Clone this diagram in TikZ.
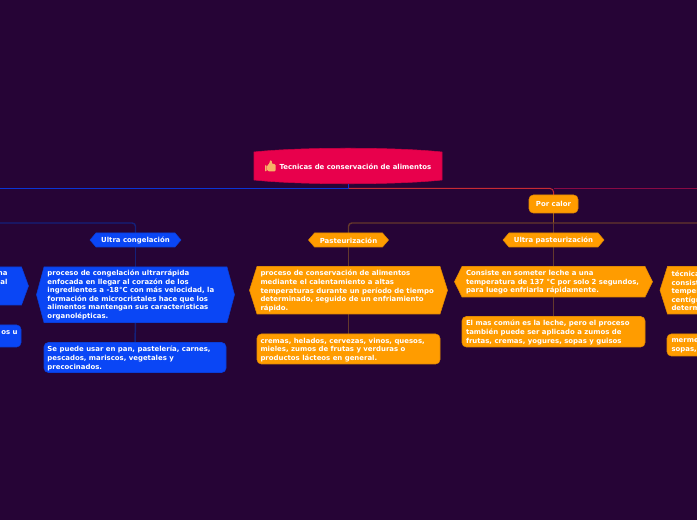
\documentclass[tikz,border=0pt]{standalone}
\usepackage{fontspec}
\setmainfont{DejaVu Sans}[BoldFont={DejaVu Sans Bold}]
\usetikzlibrary{backgrounds}
\definecolor{bgc}{HTML}{260436}
\definecolor{bluec}{HTML}{0A46F5}
\definecolor{orangec}{HTML}{FF9C00}
\definecolor{rootc}{HTML}{E8004C}
\definecolor{blueline}{HTML}{0A35D8}
\definecolor{bluedark}{HTML}{14207A}
\definecolor{redline}{HTML}{C82A34}
\definecolor{magline}{HTML}{8A0A44}
\definecolor{brownline}{HTML}{64382C}
\definecolor{thumbc}{HTML}{F7B267}
\tikzset{
  x=0.75pt,y=-0.75pt,
  lbl/.style={inner sep=0pt,outer sep=0pt,anchor=west,align=left,text=white,
    font=\fontsize{5.2pt}{6.45pt}\selectfont\bfseries},
  midlbl/.style={lbl,anchor=center,align=center},
  wire/.style={line width=0.75pt},
  softwire/.style={line width=1.1pt},
  corner/.style={rounded corners=2.5pt}
}
% name, x1, y1, x2, y2, inset, colour
\newcommand\hexshape[7]{%
  \node[inner sep=0pt,outer sep=0pt,minimum width={(#4-#2)*0.75pt},minimum height={(#5-#3)*0.75pt}]
    (#1) at ({(#2+#4)/2},{(#3+#5)/2}) {};
  \filldraw[fill=#7,draw=#7!88!black,line width=0.4pt]
    (#2,{(#3+#5)/2}) -- ({#2+#6},#3) -- ({#4-#6},#3) -- (#4,{(#3+#5)/2}) -- ({#4-#6},#5) -- ({#2+#6},#5) -- cycle;}
% name, x1, y1, x2, y2, colour
\newcommand\boxshape[6]{%
  \node[inner sep=0pt,outer sep=0pt,minimum width={(#4-#2)*0.75pt},minimum height={(#5-#3)*0.75pt}]
    (#1) at ({(#2+#4)/2},{(#3+#5)/2}) {};
  \filldraw[fill=#6,draw=#6!88!black,line width=0.4pt,rounded corners=3.2pt]
    (#2,#3) rectangle (#4,#5);}
\begin{document}
\begin{tikzpicture}
\useasboundingbox (0,0) rectangle (697,520);
\clip (0,0) rectangle (697,520);
\coordinate (jroot) at (348.5,188.5);
\coordinate (offleft) at (0,188.5);
\coordinate (offright) at (697,188.5);
\coordinate (jcalor) at (553.5,188.5);
\coordinate (jbrown) at (553.5,223);
\coordinate (offright2) at (697,223);
\coordinate (offleft2) at (0,223);

% root
\node[inner sep=0pt,outer sep=0pt,minimum width=141pt,minimum height=27pt] (root) at (348.5,166) {};
\filldraw[fill=rootc,draw=rootc!88!black,line width=0.4pt]
  (254,152) .. controls (300,147) and (396,147) .. (442,152) -- (442,180)
  .. controls (396,185) and (300,185) .. (254,180) -- cycle;
% thumb icon
\fill[thumbc,rounded corners=0.6pt] (265,165) -- (266.5,165) -- (266.5,171.5) -- (265,171.5) -- cycle;
\fill[thumbc,rounded corners=0.8pt] (267,165.5) -- (269.5,163.5) -- (270,160) -- (271.8,160.5) -- (271.8,164) -- (275.5,164) -- (275.5,171.5) -- (269,171.5) -- (267,170.5) -- cycle;
\node[lbl] (roottext) at (279.5,166.6) {Tecnicas de conservación de alimentos};

% por calor
\boxshape{calor}{529}{195}{578}{213}{orangec}
\node[midlbl] (calortext) at (553.5,204) {Por calor};

% second level
\hexshape{cong}{90}{233}{181}{247}{6}{bluec}
\node[midlbl] (congtext) at (135.5,240.5) {Ultra congelación};
\hexshape{past}{308.5}{233}{388.5}{247}{6}{orangec}
\node[midlbl] (pasttext) at (348.5,240.5) {Pasteurización};
\hexshape{upast}{503}{233}{604}{247}{6}{orangec}
\node[midlbl] (upasttext) at (553.5,240.5) {Ultra pasteurización};

% blue column
\hexshape{conghex}{36.5}{267}{234.5}{322.5}{7.5}{bluec}
\node[lbl] (conghext) at (47.5,295) {proceso de congelación ultrarrápida\\enfocada en llegar al corazón de los\\ingredientes a -18°C con más velocidad, la\\formación de microcristales hace que los\\alimentos mantengan sus características\\organolépticas.};
\boxshape{congbox}{44}{342.5}{226}{372.5}{bluec}
\node[lbl] (congboxt) at (47.5,358.5) {Se puede usar en pan, pastelería, carnes,\\pescados, mariscos, vegetales y\\precocinados.};

% clipped left
\hexshape{lefthex}{-169.5}{267}{28.5}{305}{7}{bluec}
\node[lbl,anchor=east,align=right] (lefthext) at (7.5,278) {na\\al};
\boxshape{leftbox}{-161}{325}{21}{347}{bluec}
\node[lbl,anchor=east] (leftboxt) at (17.5,333) {os u};

% orange column 1
\hexshape{pasthex}{249.5}{266.5}{447.5}{314}{7.5}{orangec}
\node[lbl] (pasthext) at (260.5,291) {proceso de conservación de alimentos\\mediante el calentamiento a altas\\temperaturas durante un período de tiempo\\determinado, seguido de un enfriamiento\\rápido.};
\boxshape{pastbox}{257}{334}{440}{364}{orangec}
\node[lbl] (pastboxt) at (260.5,349.8) {cremas, helados, cervezas, vinos, quesos,\\mieles, zumos de frutas y verduras o\\productos lácteos en general.};

% orange column 2
\hexshape{upasthex}{454.5}{266.5}{652.5}{297}{7.5}{orangec}
\node[lbl] (upasthext) at (466,282.3) {Consiste en someter leche a una\\temperatura de 137 °C por solo 2 segundos,\\para luego enfriarla rápidamente.};
\boxshape{upastbox}{462}{316.5}{645}{347}{orangec}
\node[lbl] (upastboxt) at (466,332.5) {El mas común es la leche, pero el proceso\\también puede ser aplicado a zumos de\\frutas, cremas, yogures, sopas y guisos};

% clipped right
\hexshape{righthex}{660}{266.5}{858}{314}{7.5}{orangec}
\node[lbl] (righthext) at (671.5,291) {técnica\\consiste\\temperat\\centígra\\determin};
\boxshape{rightbox}{667}{334}{850}{356}{orangec}
\node[lbl] (rightboxt) at (671.5,345.3) {mermel\\sopas,};

\begin{pgfonlayer}{background}
\fill[bgc] (0,0) rectangle (697,520);
\draw[wire,blueline] (root.south) -- (jroot) -- (offleft);
\draw[wire,redline,corner] (jroot) -| (calor.north);
\draw[wire,magline] (jcalor) -- (offright);
\draw[wire,brownline!60!orangec] (calor.south) -- (jbrown);
\draw[softwire,brownline,corner] (past.north) |- (offright2);
\draw[softwire,brownline] (jbrown) -- (upast.north);
\draw[softwire,brownline] (past.south) -- (pasthex.north);
\draw[softwire,brownline] (pasthex.south) -- (pastbox.north);
\draw[softwire,brownline] (upast.south) -- (upasthex.north);
\draw[softwire,brownline] (upasthex.south) -- (upastbox.north);
\draw[softwire,bluedark,corner] (cong.north) |- (offleft2);
\draw[softwire,bluedark] (cong.south) -- (conghex.north);
\draw[softwire,bluedark] (conghex.south) -- (congbox.north);
\end{pgfonlayer}
\end{tikzpicture}
\end{document}
